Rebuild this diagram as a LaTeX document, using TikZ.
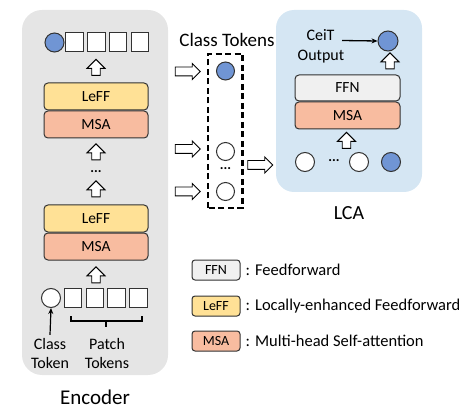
\documentclass[tikz,border=0pt]{standalone}
\usepackage{fontspec}
\setmainfont{Carlito}
\usetikzlibrary{positioning,shapes.arrows,arrows.meta,calc}

\definecolor{encgray}{RGB}{229,229,229}
\definecolor{lcablue}{RGB}{213,230,243}
\definecolor{leffyellow}{RGB}{255,225,150}
\definecolor{msasalmon}{RGB}{248,188,160}
\definecolor{ffngray}{RGB}{240,240,240}
\definecolor{tokblue}{RGB}{112,149,212}
\definecolor{edge}{RGB}{50,50,50}

\tikzset{
  block/.style={draw=edge, line width=1pt, rounded corners=4pt, minimum width=104pt,
    minimum height=27pt, inner sep=0pt, font=\fontsize{15.5}{16}\selectfont},
  leff/.style={block, fill=leffyellow},
  msa/.style={block, fill=msasalmon},
  ffn/.style={block, fill=ffngray},
  tok/.style={circle, draw=edge, line width=1pt, fill=white, minimum size=19pt, inner sep=0pt},
  clstok/.style={tok, fill=tokblue},
  patch/.style={draw=edge, line width=0.8pt, fill=white, minimum width=17.5pt, minimum height=19pt, inner sep=0pt},
  uparrow/.style={single arrow, draw=black, line width=0.9pt, fill=white, shape border rotate=90,
    minimum height=16pt, inner sep=3.8pt, single arrow head extend=4.8pt},
  rarrow/.style={single arrow, draw=black, line width=0.9pt, fill=white,
    minimum height=25pt, inner sep=4pt, single arrow head extend=3.5pt},
  dotsnode/.style={font=\fontsize{14}{14}\selectfont\bfseries, inner sep=0pt},
  legbox/.style={draw=edge, line width=1pt, rounded corners=3pt, minimum width=48pt,
    minimum height=20pt, inner sep=0pt, font=\fontsize{14}{14}\selectfont},
  legtext/.style={anchor=west, font=\fontsize{16.5}{17}\selectfont, inner sep=0pt}
}

\begin{document}
\begin{tikzpicture}[x=1pt,y=1pt,node distance=3.5pt]
  \useasboundingbox (0,0) rectangle (474,413);

  % panels
  \fill[encgray, rounded corners=20pt] (22,38) rectangle (168,403);
  \fill[lcablue, rounded corners=18pt] (276,221) rectangle (422,403);
  \node[font=\fontsize{21}{21}\selectfont] (enc) at (95,16) {Encoder};
  \node[font=\fontsize{20}{20}\selectfont] (lca) at (349,200) {LCA};

  % encoder output tokens
  \node[clstok] (o0) at (54.5,370.5) {};
  \node[patch] (o1) at (74.5,371) {};
  \node[patch] (o2) [right=of o1] {};
  \node[patch] (o3) [right=of o2] {};
  \node[patch] (o4) [right=of o3] {};

  % encoder layers
  \node[leff] (leff1) at (96,316.5) {LeFF};
  \node[msa]  (msa1) [below=0pt of leff1] {MSA};
  \node[leff] (leff2) at (96,194.5) {LeFF};
  \node[msa]  (msa2) [below=0pt of leff2] {MSA};
  \node[uparrow] (ua1) at (96,343.5) {};
  \node[uparrow] (ua2) at (96,259) {};
  \node[dotsnode] (edots) at (96,241) {...};
  \node[uparrow] (ua3) at (96,222) {};
  \node[uparrow] (ua4) at (96,136) {};

  % encoder input tokens
  \node[tok] (i0) at (51,115) {};
  \node[patch] (i1) at (73,115) {};
  \node[patch] (i2) [right=of i1] {};
  \node[patch] (i3) [right=of i2] {};
  \node[patch] (i4) [right=of i3] {};
  \node[font=\fontsize{16}{19}\selectfont, align=center] (clsl) at (50,59.5) {Class\\Token};
  \node[font=\fontsize{16}{19}\selectfont, align=center] (patl) at (107,59.5) {Patch\\Tokens};
  \draw[-{Stealth[length=6pt,width=5pt]}, line width=1.2pt] (clsl.north) -- (i0.south);
  \coordinate (bl) at (71,97);
  \coordinate (br) at (142,97);
  \draw[line width=1.5pt] (bl) |- (106,92) -| (br);
  \draw[line width=1.5pt] (106,92) -- (106,86);

  % class tokens
  \node[font=\fontsize{19}{19}\selectfont] (ctl) at (227,373) {Class Tokens};
  \node[clstok, minimum size=18pt] (c1) at (225.5,342) {};
  \node[tok, minimum size=18pt] (c2) at (225.5,261.5) {};
  \node[dotsnode] (cdots) at (225.5,244) {...};
  \node[tok, minimum size=18pt] (c3) at (225.5,221.5) {};
  \draw[line width=2.6pt, dash pattern=on 6pt off 3.5pt] (208,205) rectangle (242.5,359);
  \node[rarrow] (ra1) at (185.5,341.5) {};
  \node[rarrow] (ra2) at (185.5,264) {};
  \node[rarrow] (ra3) at (185.5,221.5) {};
  \node[rarrow] (ra4) at (258,248) {};

  % LCA
  \node[tok] (l1) at (305,251) {};
  \node[dotsnode] (ldots) at (334,252) {...};
  \node[tok] (l2) at (359,251) {};
  \node[clstok] (l3) at (391,251) {};
  \node[uparrow] (ua5) at (346.5,270.5) {};
  \node[msa, minimum width=105pt] (msa3) at (347.5,297.5) {MSA};
  \node[ffn, minimum width=105pt, minimum height=26pt] (ffn) [above=0pt of msa3] {FFN};
  \node[uparrow] (ua6) at (390,350) {};
  \node[clstok, minimum size=20pt] (out) at (388,372) {};
  \node[font=\fontsize{16}{16}\selectfont, anchor=base] (ceit) at (320.5,372) {CeiT};
  \node[font=\fontsize{16}{16}\selectfont] (outl) at (321,356) {Output};
  \draw[-{Stealth[length=6pt,width=5pt]}, line width=1.3pt] (342,372.5) -- (out.west);

  % legend
  \node[legbox, fill=ffngray] (lg1) at (216,143) {FFN};
  \node[legbox, fill=leffyellow] (lg2) at (216,107) {LeFF};
  \node[legbox, fill=msasalmon] (lg3) at (216,72) {MSA};
  \node[legtext] (lt1) [right=5pt of lg1] {: Feedforward};
  \node[legtext] (lt2) [right=5pt of lg2] {: Locally-enhanced Feedforward};
  \node[legtext] (lt3) [right=5pt of lg3] {: Multi-head Self-attention};
\end{tikzpicture}
\end{document}
